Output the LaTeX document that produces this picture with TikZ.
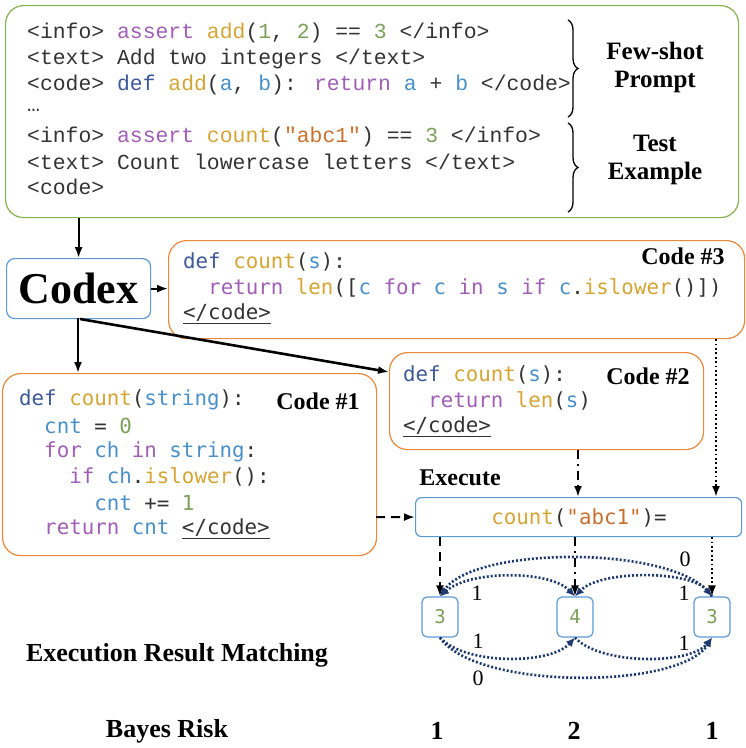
\documentclass[tikz,border=0pt]{standalone}
\usepackage{fontspec}
\setmainfont{Liberation Serif}
\newfontfamily\cour{Liberation Mono}
\newfontfamily\djm{DejaVu Sans Mono}
\usetikzlibrary{decorations.pathreplacing,arrows.meta}
\definecolor{kp}{HTML}{A05EB5}
\definecolor{kf}{HTML}{D4A535}
\definecolor{kn}{HTML}{7BA05B}
\definecolor{kd}{HTML}{3C5A99}
\definecolor{kv}{HTML}{4A90C8}
\definecolor{ks}{HTML}{C8702F}
\definecolor{bg}{HTML}{82B34E}
\definecolor{bo}{HTML}{E8893C}
\definecolor{bb}{HTML}{5B9BD5}
\definecolor{arc}{HTML}{1F3A6E}
\definecolor{tx}{HTML}{333333}
\begin{document}
\begin{tikzpicture}[x=1pt,y=-1pt,
 tl/.style={anchor=west,inner sep=0pt,font=\cour\fontsize{21.4}{24}\selectfont,text=tx},
 cl/.style={anchor=west,inner sep=0pt,font=\djm\fontsize{20.8}{24}\selectfont,text=tx},
 lab/.style={inner sep=0pt,font=\bfseries\fontsize{24}{26}\selectfont},
 box/.style={draw,rounded corners=18pt,line width=1.2pt},
 arr/.style={-{Latex[length=11pt,width=8pt]},line width=2pt},
 dsh/.style={dash pattern=on 9pt off 6pt},
 dd/.style={dash pattern=on 9pt off 5pt on 2pt off 5pt},
 dt/.style={dash pattern=on 1.8pt off 2.6pt},
 mt/.style={-{Latex[length=9pt,width=8pt]},arc,line width=2.6pt,dash pattern=on 2pt off 2pt}]
\useasboundingbox (0,0) rectangle (746,748);
\node[box,draw=bg,minimum width=733pt,minimum height=212pt,anchor=north west] (top) at (5,5) {};
\node[tl] (t1) at (27,33) {<info> \textcolor{kp}{assert} \textcolor{kf}{add}(\textcolor{kn}{1}, \textcolor{kn}{2}) == \textcolor{kn}{3} </info>};
\node[tl] (t2) at (27,59) {<text> Add two integers </text>};
\node[tl] (t3) at (27,85) {<code> \textcolor{kd}{def} \textcolor{kf}{add}(\textcolor{kv}{a}, \textcolor{kv}{b}): \textcolor{kp}{return} \textcolor{kv}{a} + \textcolor{kv}{b} </code>};
\node[tl] (t4) at (27,110) {…};
\node[tl] (t5) at (27,137) {<info> \textcolor{kp}{assert} \textcolor{kf}{count}(\textcolor{ks}{"abc1"}) == \textcolor{kn}{3} </info>};
\node[tl] (t6) at (27,162) {<text> Count lowercase letters </text>};
\node[tl] (t7) at (27,187) {<code>};
\draw[decorate,decoration={brace,amplitude=10pt},line width=1.3pt] (568,20) coordinate(b1) -- (568,117) coordinate(b2);
\draw[decorate,decoration={brace,amplitude=10pt},line width=1.3pt] (568,123) coordinate(b3) -- (568,212) coordinate(b4);
\node[lab,align=center,font=\bfseries\fontsize{25}{28}\selectfont] (fs) at (655,67) {Few-shot\\Prompt};
\node[lab,align=center,font=\bfseries\fontsize{25}{28}\selectfont] (te) at (655,160) {Test\\Example};

\node[box,draw=bb,rounded corners=8pt,minimum width=144pt,minimum height=60pt,anchor=north west,font=\bfseries\fontsize{44}{46}\selectfont] (codex) at (6,258) {Codex};

\node[box,draw=bo,minimum width=576pt,minimum height=98pt,anchor=north west] (c3) at (168,240) {};
\node[cl] (c3a) at (183,262) {\textcolor{kd}{def} \textcolor{kf}{count}(\textcolor{kv}{s}):};
\node[cl] (c3b) at (183,288) {\ \ \textcolor{kp}{return} \textcolor{kf}{len}([\textcolor{kv}{c} \textcolor{kp}{for} \textcolor{kv}{c} \textcolor{kp}{in} \textcolor{kv}{s} \textcolor{kp}{if} \textcolor{kv}{c}.\textcolor{kf}{islower}()])};
\node[cl] (c3c) at (183,314) {\underline{</code>}};
\node[lab] (l3) at (683,256) {Code \#3};

\node[box,draw=bo,minimum width=314pt,minimum height=97pt,anchor=north west] (c2) at (389,352) {};
\node[cl] (c2a) at (403,375) {\textcolor{kd}{def} \textcolor{kf}{count}(\textcolor{kv}{s}):};
\node[cl] (c2b) at (403,401) {\ \ \textcolor{kp}{return} \textcolor{kf}{len}(\textcolor{kv}{s})};
\node[cl] (c2c) at (403,427) {\underline{</code>}};
\node[lab] (l2) at (648,376) {Code \#2};

\node[box,draw=bo,minimum width=374pt,minimum height=182pt,anchor=north west] (c1) at (2,373) {};
\node[cl] (c1a) at (19,400) {\textcolor{kd}{def} \textcolor{kf}{count}(\textcolor{kv}{string}):};
\node[cl] (c1b) at (19,426) {\ \ \textcolor{kv}{cnt} = \textcolor{kn}{0}};
\node[cl] (c1c) at (19,452) {\ \ \textcolor{kp}{for} \textcolor{kv}{ch} \textcolor{kp}{in} \textcolor{kv}{string}:};
\node[cl] (c1d) at (19,477) {\ \ \ \ \textcolor{kp}{if} \textcolor{kv}{ch}.\textcolor{kf}{islower}():};
\node[cl] (c1e) at (19,503) {\ \ \ \ \ \ \textcolor{kv}{cnt} += \textcolor{kn}{1}};
\node[cl] (c1f) at (19,529) {\ \ \textcolor{kp}{return} \textcolor{kv}{cnt} \underline{</code>}};
\node[lab] (l1) at (318,401) {Code \#1};

\node[lab] (exl) at (460,478) {Execute};
\node[box,draw=bb,rounded corners=6pt,minimum width=326pt,minimum height=39pt,anchor=north west] (ex) at (415,497) {};
\node[cl] (ext) at (579,518) [anchor=center] {\textcolor{kf}{count}(\textcolor{ks}{"abc1"})=};

\tikzset{rn/.style={draw=bb,rounded corners=5pt,line width=1.2pt,minimum width=36pt,minimum height=40pt,inner sep=0pt,font=\djm\fontsize{19}{22}\selectfont,text=kn}}
\node[rn] (r1) at (440,617) {3};
\node[rn] (r2) at (575,617) {4};
\node[rn] (r3) at (712,617) {3};

\draw[arr] (top.south -| codex) -- (codex.north);
\draw[arr] (codex.east) -- (codex.east -| c3.west);
\draw[arr] (78,318) -- (78,373);
\draw[arr,line width=2.6pt] (80,319) -- (389,372);
\draw[arr,dsh] (376,517) -- (ex.west);
\draw[arr,dd] (c2.south -| 578,0) -- (ex.north -| 578,0);
\draw[arr,dt] (c3.south -| 716,0) -- (ex.north -| 716,0);
\draw[arr,dsh] (ex.south -| r1) -- (r1.north);
\draw[arr,dd] (ex.south -| r2) -- (r2.north);
\draw[arr,dt] (ex.south -| r3) -- (r3.north);

\draw[mt] (r3.north) .. controls (680,545) and (475,545) .. (r1.north);
\draw[mt,{Latex[length=9pt,width=8pt]}-{Latex[length=9pt,width=8pt]}] (r2.north) .. controls (550,570) and (470,570) .. (r1.north);
\draw[mt,{Latex[length=9pt,width=8pt]}-{Latex[length=9pt,width=8pt]}] (r3.north) .. controls (690,570) and (600,570) .. (r2.north);
\draw[mt] (r1.south) .. controls (465,665) and (550,665) .. (r2.south);
\draw[mt] (r2.south) .. controls (600,665) and (690,665) .. (r3.south);
\draw[mt] (r1.south) .. controls (475,690) and (680,690) .. (r3.south);

\tikzset{nl/.style={inner sep=0pt,font=\fontsize{22}{24}\selectfont}}
\node[nl] (n1) at (685,559) {0};
\node[nl] (n2) at (477,593) {1};
\node[nl] (n3) at (684,593) {1};
\node[nl] (n4) at (478,641) {1};
\node[nl] (n5) at (684,643) {1};
\node[nl] (n6) at (478,678) {0};

\node[lab,font=\bfseries\fontsize{26}{28}\selectfont] (erm) at (177,655) {Execution Result Matching};
\node[lab,font=\bfseries\fontsize{26}{28}\selectfont] (br) at (167,731) {Bayes Risk};
\node[lab,font=\bfseries\fontsize{26}{28}\selectfont] (s1) at (437,731) {1};
\node[lab,font=\bfseries\fontsize{26}{28}\selectfont] (s2) at (574,731) {2};
\node[lab,font=\bfseries\fontsize{26}{28}\selectfont] (s3) at (712,731) {1};
\end{tikzpicture}
\end{document}
